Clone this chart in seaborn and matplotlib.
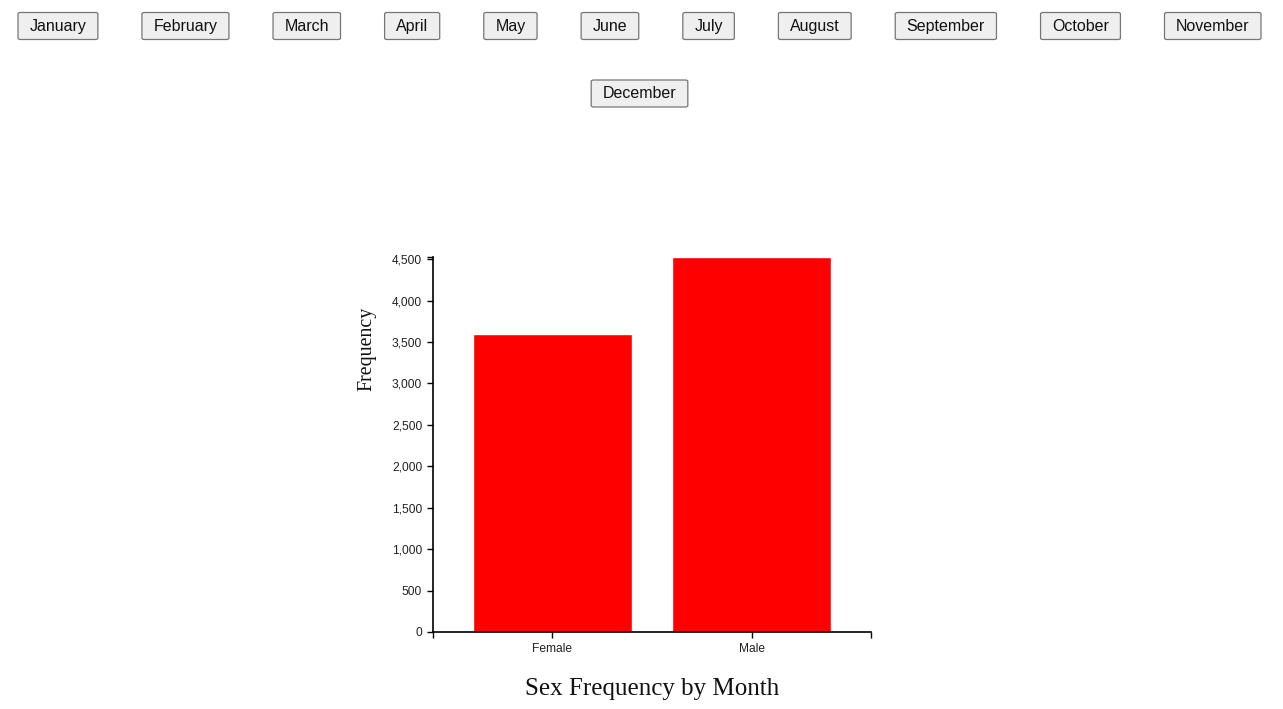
"""
Sex frequency by month - bar chart with month buttons on top.
"""

import matplotlib
matplotlib.use("Agg")
import matplotlib.pyplot as plt
import seaborn as sns
import pandas as pd
from matplotlib.patches import FancyBboxPatch
from matplotlib.ticker import StrMethodFormatter, FixedLocator

# Data
months = ['January', 'February', 'March', 'April', 'May', 'June', 'July',
          'August', 'September', 'October', 'November', 'December']
sexes = ['Female', 'Male']
frequency = [3594, 4527]
y_ticks = list(range(0, 4501, 500))

W, H = 1283, 709
sns.set_style('white')
plt.rcParams['font.family'] = ['Liberation Sans', 'DejaVu Sans']

fig = plt.figure(figsize=(W / 100, H / 100), dpi=100)
PX = 72 / 100  # points per pixel

# Axes placed in pixel terms
left, right, bottom, top = 433, 871, 632, 257
ax = fig.add_axes([left / W, 1 - bottom / H, (right - left) / W, (bottom - top) / H])

df = pd.DataFrame({'sex': sexes, 'frequency': frequency})
sns.barplot(data=df, x='sex', y='frequency', color='#ff0000', saturation=1,
            width=0.8, ax=ax)

ax.set_xlim(-0.6, 1.6)
ax.set_ylim(0, max(frequency))
ax.yaxis.set_major_locator(FixedLocator(y_ticks))
ax.yaxis.set_major_formatter(StrMethodFormatter('{x:,.0f}'))
# outer (domain) ticks like a d3 axis
ax.xaxis.set_minor_locator(FixedLocator([-0.6, 1.6]))
ax.yaxis.set_minor_locator(FixedLocator([0, max(frequency)]))

for s in ['top', 'right']:
    ax.spines[s].set_visible(False)
for s in ['left', 'bottom']:
    ax.spines[s].set_color('black')
    ax.spines[s].set_linewidth(1.2)

ax.tick_params(which='both', length=6 * PX, width=1, color='black',
               labelsize=12 * PX, labelcolor='#222222', pad=3.5, left=True, bottom=True)
ax.tick_params(which='minor', labelleft=False, labelbottom=False)
ax.set_xlabel('')
ax.set_ylabel('Frequency', family='Liberation Serif', fontsize=20 * PX, color='#111111')
ax.yaxis.set_label_coords((376 - left) / (right - left), (bottom - 349) / (bottom - top))

fig.text(652 / W, 1 - 689 / H, 'Sex Frequency by Month', family='Liberation Serif',
         fontsize=25 * PX, color='#111111', ha='center', va='center')

# Month buttons
renderer = fig.canvas.get_renderer()
pad_x = 11.5
btn_h = 27
font_px = 16


def text_width(label):
    t = fig.text(0, 0, label, fontsize=font_px * PX)
    w = t.get_window_extent(renderer).width
    t.remove()
    return w


def draw_button(label, x0, yc, w):
    patch = FancyBboxPatch((x0 / W, 1 - (yc + btn_h / 2) / H), w / W, btn_h / H,
                           boxstyle='round,pad=0,rounding_size=0.002',
                           transform=fig.transFigure, facecolor='#efefef',
                           edgecolor='#767676', linewidth=0.9)
    fig.add_artist(patch)
    fig.text((x0 + w / 2) / W, 1 - (yc - 1) / H, label, fontsize=font_px * PX,
             color='#111111', ha='center', va='center_baseline')


row1 = months[:11]
widths = [text_width(m) + 2 * pad_x for m in row1]
start, end = 18, 1261
gap = (end - start - sum(widths)) / (len(row1) - 1)
x = start
for m, w in zip(row1, widths):
    draw_button(m, x, 26, w)
    x += w + gap

w_dec = text_width(months[11]) + 2 * pad_x
draw_button(months[11], 639.5 - w_dec / 2, 93.5, w_dec)

fig.savefig('out.png', dpi=100)
